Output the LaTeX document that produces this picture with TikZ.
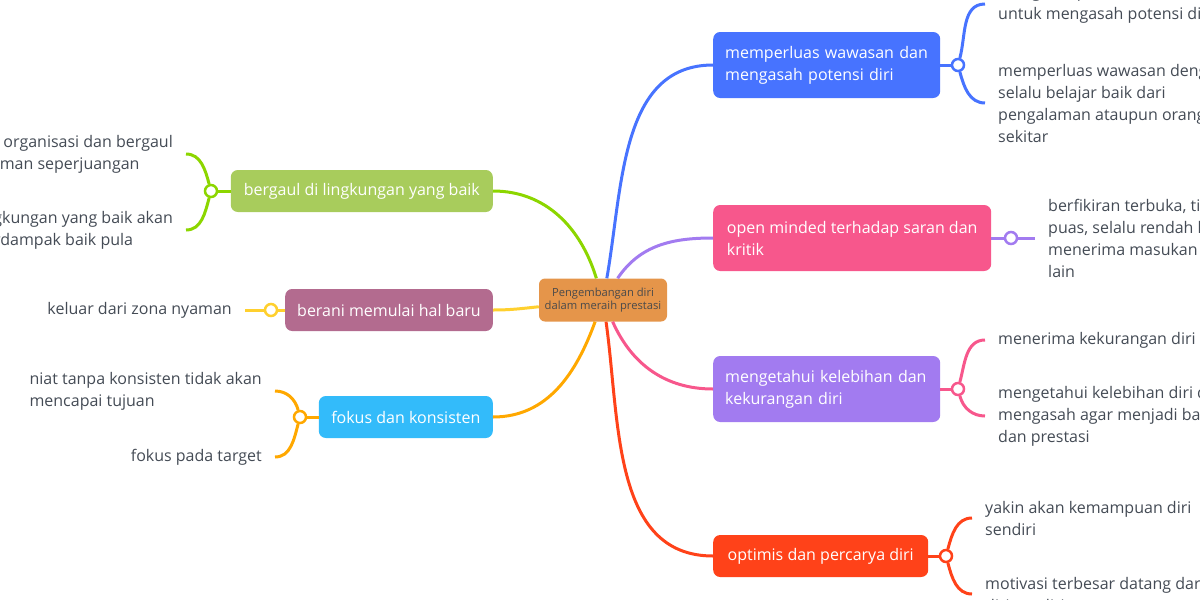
\documentclass[tikz,border=0pt]{standalone}
\usepackage{fontspec}
\setmainfont{Open Sans}
\usetikzlibrary{positioning}

\definecolor{rootfill}{HTML}{E5954A}
\definecolor{roottext}{HTML}{4A4A4A}
\definecolor{leafgray}{HTML}{444B55}
\definecolor{boxBlue}{HTML}{4773FF}
\definecolor{boxPink}{HTML}{F7578C}
\definecolor{boxPurple}{HTML}{A27BF0}
\definecolor{boxRed}{HTML}{FF4219}
\definecolor{boxGreen}{HTML}{A8CC5C}
\definecolor{boxMauve}{HTML}{B36B8F}
\definecolor{boxCyan}{HTML}{33BBFA}
\definecolor{lineLime}{HTML}{8CD600}
\definecolor{lineYellow}{HTML}{FFD02E}
\definecolor{lineOrange}{HTML}{FFA800}

\begin{document}
\begin{tikzpicture}[
  x = 1pt, y = -1pt,
  font = \fontsize{16}{22}\selectfont,
  topic/.style = {rounded corners = 7pt, text = white,
    inner xsep = 12pt, inner ysep = 0pt, align = left},
  twoline/.style = {minimum height = 66pt},
  oneline/.style = {minimum height = 42pt, align = center},
  leaf/.style = {text = leafgray, align = left,
    inner xsep = 13pt, inner ysep = 0pt},
  knob/.style = {circle, fill = white, line width = 2.5pt,
    minimum size = 12pt, inner sep = 0pt},
  branch/.style = {line width = 3pt}
  ]
  \useasboundingbox (0,0) rectangle (1200,600);
  \clip (0,0) rectangle (1200,600);

  % Nodes
  \node at (603, 300) [rounded corners = 6pt, fill = rootfill, text = roottext,
    minimum width = 128pt, minimum height = 43pt, inner sep = 0pt, align = center,
    font = \fontsize{11.2}{13}\selectfont, name = root]
    {Pengembangan diri\\dalam meraih prestasi};

  \node at (713,  65) [topic, twoline, anchor = west, fill = boxBlue,
    text width = 203pt, name = wawasan]
    {memperluas wawasan dan\\mengasah potensi diri};
  \node at (713, 238) [topic, twoline, anchor = west, fill = boxPink,
    minimum width = 278pt, name = openminded]
    {open minded terhadap saran dan\\kritik};
  \node at (713, 389) [topic, twoline, anchor = west, fill = boxPurple,
    text width = 203pt, name = kelebihan]
    {mengetahui kelebihan dan\\kekurangan diri};
  \node at (713, 556) [topic, oneline, anchor = west, fill = boxRed,
    minimum width = 215pt, name = optimis] {optimis dan percarya diri};

  \node at (493, 191) [topic, oneline, anchor = east, fill = boxGreen,
    minimum width = 262pt, name = bergaul] {bergaul di lingkungan yang baik};
  \node at (493, 310) [topic, oneline, anchor = east, fill = boxMauve,
    minimum width = 202pt, name = berani] {berani memulai hal baru};
  \node at (493, 417) [topic, oneline, anchor = east, fill = boxCyan,
    minimum width = 174pt, name = fokus] {fokus dan konsisten};

  % knobs
  \node at ( 958,  65) [knob, draw = boxBlue,    name = kWawasan] {};
  \node at (1011, 238) [knob, draw = boxPurple,  name = kOpen] {};
  \node at ( 958, 389) [knob, draw = boxPink,    name = kKelebihan] {};
  \node at ( 946, 556) [knob, draw = boxRed,     name = kOptimis] {};
  \node at ( 211, 191) [knob, draw = lineLime,   name = kBergaul] {};
  \node at ( 271, 310) [knob, draw = lineYellow, name = kBerani] {};
  \node at ( 300, 417) [knob, draw = lineOrange, name = kFokus] {};

  % leaves
  \node at ( 985,   4) [leaf, anchor = west, name = wawasanA]
    {mengikuti pelatihan\\untuk mengasah potensi diri};
  \node at ( 985, 103) [leaf, anchor = west, name = wawasanB]
    {memperluas wawasan dengan\\selalu belajar baik dari\\pengalaman ataupun orang\\sekitar};
  \node at (1035, 238) [leaf, anchor = west, name = openA]
    {berfikiran terbuka, tidak\\puas, selalu rendah hati\\menerima masukan orang\\lain};
  \node at ( 985, 340) [leaf, anchor = west, name = kelebihanA]
    {menerima kekurangan diri};
  \node at ( 985, 416) [leaf, anchor = west, name = kelebihanB]
    {mengetahui kelebihan diri dan\\mengasah agar menjadi baik\\dan prestasi};
  \node at ( 972, 518) [leaf, anchor = west, name = optimisA]
    {yakin akan kemampuan diri\\sendiri};
  \node at ( 972, 594) [leaf, anchor = west, name = optimisB]
    {motivasi terbesar datang dari\\diri sendiri};

  \node at ( 186, 154) [leaf, anchor = east, name = bergaulA]
    {mengikuti organisasi dan bergaul\\dengan teman seperjuangan};
  \node at ( 186, 230) [leaf, anchor = east, name = bergaulB]
    {lingkungan yang baik akan\\berdampak baik pula};
  \node at ( 245, 310) [leaf, anchor = east, name = beraniA]
    {keluar dari zona nyaman};
  \node at ( 275, 391) [leaf, anchor = east, name = fokusA]
    {niat tanpa konsisten tidak akan\\mencapai tujuan};
  \node at ( 275, 457) [leaf, anchor = east, name = fokusB]
    {fokus pada target};

  % Branches from the root
  \draw [branch, boxBlue]    (root) to [out =   80, in = 180] (wawasan);
  \draw [branch, boxPurple]  (root) to [out =   56, in = 180] (openminded);
  \draw [branch, boxPink]    (root) to [out =  -66, in = 180] (kelebihan);
  \draw [branch, boxRed]     (root) to [out =  -82, in = 180] (optimis);
  \draw [branch, lineLime]   (root) to [out =  107, in =   0] (bergaul);
  \draw [branch, lineYellow] (root) to [out =  186, in =   0] (berani);
  \draw [branch, lineOrange] (root) to [out = -110, in =   0] (fokus);

  % stubs and braces
  \draw [branch, boxBlue] (wawasan) -- (kWawasan);
  \draw [branch, boxBlue] (kWawasan) to [out =  75, in = 180] (wawasanA.west);
  \draw [branch, boxBlue] (kWawasan) to [out = -75, in = 180] (wawasanB.west);

  \draw [branch, boxPurple] (openminded) -- (kOpen);
  \draw [branch, boxPurple] (kOpen) -- (openA.west);

  \draw [branch, boxPink] (kelebihan) -- (kKelebihan);
  \draw [branch, boxPink] (kKelebihan) to [out =  75, in = 180] (kelebihanA.west);
  \draw [branch, boxPink] (kKelebihan) to [out = -75, in = 180] (kelebihanB.west);

  \draw [branch, boxRed] (optimis) -- (kOptimis);
  \draw [branch, boxRed] (kOptimis) to [out =  75, in = 180] (optimisA.west);
  \draw [branch, boxRed] (kOptimis) to [out = -75, in = 180] (optimisB.west);

  \draw [branch, lineLime] (bergaul) -- (kBergaul);
  \draw [branch, lineLime] (kBergaul) to [out =  105, in = 0] (bergaulA.east);
  \draw [branch, lineLime] (kBergaul) to [out = -105, in = 0] (bergaulB.east);

  \draw [branch, lineYellow] (berani) -- (kBerani);
  \draw [branch, lineYellow] (kBerani) -- (beraniA.east);

  \draw [branch, lineOrange] (fokus) -- (kFokus);
  \draw [branch, lineOrange] (kFokus) to [out =  105, in = 0] (fokusA.east);
  \draw [branch, lineOrange] (kFokus) to [out = -105, in = 0] (fokusB.east);

\end{tikzpicture}
\end{document}
